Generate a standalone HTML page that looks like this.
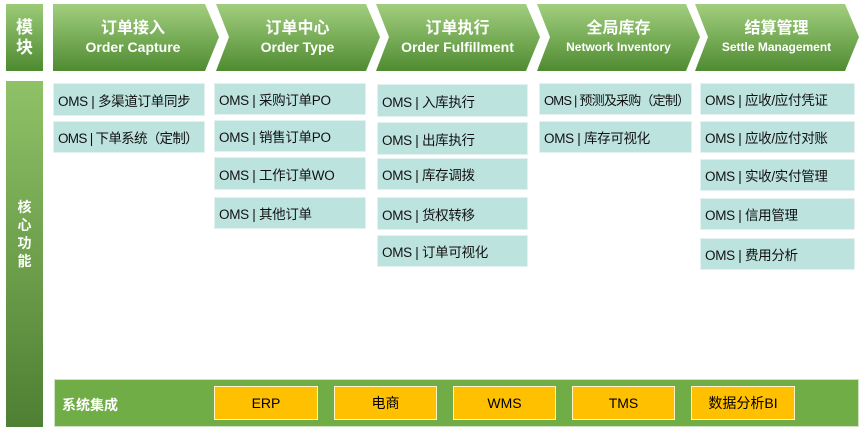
<!DOCTYPE html>
<html><head><meta charset="utf-8"><style>
body{margin:0;width:865px;height:433px;background:#fff;position:relative;overflow:hidden;font-family:"Liberation Sans","Noto Sans CJK SC",sans-serif}
.a{position:absolute}
.box{position:absolute;background:#bde3df;font-size:13.5px;letter-spacing:-0.3px;color:#111;display:flex;align-items:center;padding-left:4px;box-sizing:border-box;white-space:nowrap;overflow:hidden;border:1px solid #e3f2f0}
.o{position:absolute;top:386px;height:34px;background:#ffc000;border:1px solid #fff3c8;font-size:14px;display:flex;align-items:center;justify-content:center;box-sizing:border-box}
.h{position:absolute;top:4px;height:67px;display:flex;flex-direction:column;align-items:center;justify-content:center;color:#fff;font-weight:bold;line-height:19px}
</style></head><body>
<div class="a" style="left:6px;top:4px;width:37px;height:67px;background:linear-gradient(#9ccb78,#4d8a30);color:#fff;font-weight:bold;font-size:17px;display:flex;flex-direction:column;align-items:center;justify-content:center;line-height:20px">模<br>块</div>
<div class="a" style="left:6px;top:81px;width:37px;height:346px;background:linear-gradient(#8fc267,#4e7f33);color:#fff;font-weight:bold;font-size:14px;display:flex;flex-direction:column;align-items:center;justify-content:center;line-height:18px;padding-bottom:40px;box-sizing:border-box">核<br>心<br>功<br>能</div>
<svg class="a" style="left:0;top:0" width="865" height="80">
<defs><linearGradient id="g" x1="0" y1="0" x2="0" y2="1"><stop offset="0" stop-color="#a2cf7f"/><stop offset="1" stop-color="#4f8b31"/></linearGradient></defs>
<polygon points="53,4 205,4 219,37 205,71 53,71" fill="url(#g)"/>
<polygon points="216,4 366,4 380,37 366,71 216,71 229,37" fill="url(#g)"/>
<polygon points="376,4 526,4 540,37 526,71 376,71 389,37" fill="url(#g)"/>
<polygon points="537,4 686,4 700,37 686,71 537,71 550,37" fill="url(#g)"/>
<polygon points="695,4 845,4 859,37 845,71 695,71 708,37" fill="url(#g)"/>
</svg>
<div class="h" style="left:53px;width:160px"><span style="font-size:16px">订单接入</span><span style="font-size:14px">Order Capture</span></div>
<div class="h" style="left:220px;width:155px"><span style="font-size:16px">订单中心</span><span style="font-size:14px">Order Type</span></div>
<div class="h" style="left:380px;width:155px"><span style="font-size:16px">订单执行</span><span style="font-size:14px">Order Fulfillment</span></div>
<div class="h" style="left:541px;width:155px"><span style="font-size:16px">全局库存</span><span style="font-size:12px">Network Inventory</span></div>
<div class="h" style="left:699px;width:155px"><span style="font-size:16px">结算管理</span><span style="font-size:12px">Settle Management</span></div>

<div class="box" style="left:53px;top:83px;width:152px;height:33px">OMS | 多渠道订单同步</div>
<div class="box" style="left:53px;top:121px;width:152px;height:32px;letter-spacing:-0.7px">OMS | 下单系统（定制）</div>

<div class="box" style="left:214px;top:83px;width:152px;height:32px">OMS | 采购订单PO</div>
<div class="box" style="left:214px;top:120px;width:152px;height:32px">OMS | 销售订单PO</div>
<div class="box" style="left:214px;top:157px;width:152px;height:33px">OMS | 工作订单WO</div>
<div class="box" style="left:214px;top:197px;width:152px;height:32px">OMS | 其他订单</div>

<div class="box" style="left:377px;top:84px;width:151px;height:33px">OMS | 入库执行</div>
<div class="box" style="left:377px;top:122px;width:151px;height:33px">OMS | 出库执行</div>
<div class="box" style="left:377px;top:158px;width:151px;height:32px">OMS | 库存调拨</div>
<div class="box" style="left:377px;top:197px;width:151px;height:33px">OMS | 货权转移</div>
<div class="box" style="left:377px;top:235px;width:151px;height:32px">OMS | 订单可视化</div>

<div class="box" style="left:539px;top:83px;width:153px;height:32px;letter-spacing:-0.8px;font-size:13px">OMS | 预测及采购（定制）</div>
<div class="box" style="left:539px;top:121px;width:153px;height:32px">OMS | 库存可视化</div>

<div class="box" style="left:700px;top:83px;width:155px;height:32px">OMS | 应收/应付凭证</div>
<div class="box" style="left:700px;top:121px;width:155px;height:32px">OMS | 应收/应付对账</div>
<div class="box" style="left:700px;top:159px;width:155px;height:32px">OMS | 实收/实付管理</div>
<div class="box" style="left:700px;top:198px;width:155px;height:32px">OMS | 信用管理</div>
<div class="box" style="left:700px;top:238px;width:155px;height:32px">OMS | 费用分析</div>

<div class="a" style="left:54px;top:379px;width:805px;height:48px;background:#70ad47;border:1px solid #cfe3c0;box-sizing:border-box"></div>
<div class="a" style="left:62px;top:395px;color:#fff;font-weight:bold;font-size:14px">系统集成</div>
<div class="o" style="left:214px;width:104px">ERP</div>
<div class="o" style="left:334px;width:103px">电商</div>
<div class="o" style="left:453px;width:103px">WMS</div>
<div class="o" style="left:572px;width:103px">TMS</div>
<div class="o" style="left:691px;width:104px">数据分析BI</div>
</body></html>
